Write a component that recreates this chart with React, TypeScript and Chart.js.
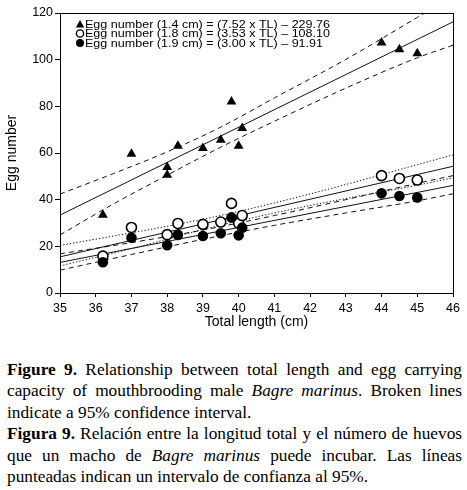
import { useRef, useEffect } from 'react';
import { Chart, registerables } from 'chart.js';

Chart.register(...registerables);

// scatter data (total length cm, egg number)
const triTL = [36.2, 37.0, 38.0, 38.0, 38.3, 39.0, 39.5, 39.8, 40.0, 40.1, 44.0, 44.5, 45.0];
const triEggs = [33.5, 59.6, 53.9, 50.6, 63.0, 62.1, 65.6, 82.0, 63.0, 70.6, 107.3, 104.4, 102.7];

const openTL = [36.2, 37.0, 38.0, 38.3, 39.0, 39.5, 39.8, 40.0, 40.1, 44.0, 44.5, 45.0];
const openEggs = [15.8, 28.1, 25.0, 29.8, 29.4, 30.4, 38.4, 29.9, 33.2, 50.3, 49.1, 48.4];

const fillTL = [36.2, 37.0, 38.0, 38.3, 39.0, 39.5, 39.8, 40.0, 40.1, 44.0, 44.5, 45.0];
const fillEggs = [13.2, 23.7, 20.5, 24.9, 24.4, 25.6, 32.4, 24.7, 28.0, 42.7, 41.6, 40.9];

// fitted lines (ends at x = 35 and 46)
const fitX = [35, 46];
const triFit = [33.4, 116.2];
const openFit = [15.5, 54.3];
const fillFit = [13.1, 46.1];

// 95% confidence bands
const triBandX = [35, 36.5, 38, 39.5, 41, 43, 45, 46];
const triUpper = [42.4, 51.2, 60.5, 71.1, 83.6, 100.1, 118.1, 127.2];
const triLower = [24.9, 38.2, 50.5, 62.5, 73.6, 87.8, 100.8, 106.2];

const bandX = [35, 37, 39, 41, 43, 45, 46];
const openUpper = [20.4, 25.8, 31.6, 38.6, 46.5, 55.0, 59.2];
const openLower = [11.6, 19.0, 27.2, 34.3, 40.5, 46.2, 49.4];
const fillUpper = [16.8, 21.6, 27.0, 33.2, 40.0, 47.0, 50.3];
const fillLower = [9.8, 16.5, 23.0, 29.0, 34.3, 39.5, 42.5];

const legendLabels = [
    'Egg number (1.4 cm) = (7.52 x TL) \u2013 229.76',
    'Egg number (1.8 cm) = (3.53 x TL) \u2013 108.10',
    'Egg number (1.9 cm) = (3.00 x TL) \u2013 91.91',
];

const xTicks = [35, 36, 37, 38, 39, 40, 41, 42, 43, 44, 45, 46];
const yTicks = [0, 20, 40, 60, 80, 100, 120];

const FONT = '"Liberation Sans", Arial, sans-serif';

const pts = (xs: number[], ys: number[]) => xs.map((x, i) => ({ x, y: ys[i] }));

const line = (xs: number[], ys: number[], dash: number[], order: number) => ({
    type: 'scatter' as const,
    data: pts(xs, ys),
    showLine: true,
    borderColor: '#111',
    borderWidth: 1,
    borderDash: dash,
    pointRadius: 0,
    cubicInterpolationMode: 'monotone' as const,
    order,
});

// box round the plot area
const framePlugin = {
    id: 'frame',
    afterDraw(chart: any) {
        const { ctx, chartArea: a } = chart;
        ctx.save();
        ctx.strokeStyle = '#000';
        ctx.lineWidth = 1;
        ctx.strokeRect(a.left + 0.5, a.top + 0.5, a.right - a.left, a.bottom - a.top);
        ctx.restore();
    },
};

// legend in the top-left corner of the plot (text is a little wide, like the scan)
const legendPlugin = {
    id: 'innerLegend',
    afterDraw(chart: any) {
        const { ctx, chartArea: a } = chart;
        const sx = a.left + 20;
        const tx = a.left + 25;
        ctx.save();
        ctx.fillStyle = '#000';
        ctx.strokeStyle = '#000';
        legendLabels.forEach((txt, i) => {
            const y = a.top + 11 + i * 9.5;
            ctx.beginPath();
            if (i === 0) {
                ctx.moveTo(sx, y - 4);
                ctx.lineTo(sx + 4.2, y + 3.5);
                ctx.lineTo(sx - 4.2, y + 3.5);
                ctx.closePath();
                ctx.fill();
            } else if (i === 1) {
                ctx.arc(sx, y, 3.6, 0, Math.PI * 2);
                ctx.lineWidth = 1.4;
                ctx.stroke();
            } else {
                ctx.arc(sx, y, 4, 0, Math.PI * 2);
                ctx.fill();
            }
            ctx.save();
            ctx.translate(tx, y + 0.5);
            ctx.scale(1.14, 1);
            ctx.font = `11px ${FONT}`;
            ctx.textBaseline = 'middle';
            ctx.fillText(txt, 0, 0);
            ctx.restore();
        });
        ctx.restore();
    },
};

const EggChart = () => {
    const canvasRef = useRef<HTMLCanvasElement | null>(null);
    const chartRef = useRef<any>(null);

    useEffect(() => {
        if (!canvasRef.current) return;
        if (chartRef.current) chartRef.current.destroy();

        const tickFont = { family: FONT, size: 12.5, lineHeight: 1 };

        chartRef.current = new Chart(canvasRef.current, {
            type: 'scatter',
            data: {
                datasets: [
                    {
                        data: pts(fillTL, fillEggs),
                        pointStyle: 'circle',
                        pointRadius: 5.3,
                        backgroundColor: '#000',
                        borderColor: '#000',
                        borderWidth: 0,
                        order: 0,
                    },
                    {
                        data: pts(openTL, openEggs),
                        pointStyle: 'circle',
                        pointRadius: 5,
                        backgroundColor: '#fff',
                        borderColor: '#000',
                        borderWidth: 1.6,
                        order: 1,
                    },
                    {
                        data: pts(triTL, triEggs),
                        pointStyle: 'triangle',
                        pointRadius: 5.7,
                        backgroundColor: '#000',
                        borderColor: '#000',
                        borderWidth: 0,
                        order: 2,
                    },
                    line(fitX, triFit, [], 3),
                    line(fitX, openFit, [], 3),
                    line(fitX, fillFit, [], 3),
                    line(triBandX, triUpper, [5, 4], 4),
                    line(triBandX, triLower, [5, 4], 4),
                    line(bandX, openUpper, [1.3, 2], 4),
                    line(bandX, openLower, [1.3, 2], 4),
                    line(bandX, fillUpper, [5, 4], 4),
                    line(bandX, fillLower, [5, 4], 4),
                ] as any,
            },
            options: {
                animation: false,
                responsive: true,
                maintainAspectRatio: false,
                layout: { padding: { top: 13, right: 14, bottom: 6, left: 0 } },
                plugins: {
                    legend: { display: false },
                    tooltip: { enabled: false },
                },
                scales: {
                    x: {
                        type: 'linear',
                        min: 35,
                        max: 46,
                        afterBuildTicks: (s: any) => { s.ticks = xTicks.map(v => ({ value: v })); },
                        afterFit: (s: any) => { s.height = 36; },
                        ticks: { color: '#000', font: tickFont, padding: 5 },
                        grid: { display: true, drawOnChartArea: false, drawTicks: true, tickLength: 4, color: '#000' },
                        border: { display: true, color: '#000', width: 1 },
                        title: {
                            display: true,
                            text: 'Total length (cm)',
                            color: '#000',
                            font: { family: FONT, size: 14, lineHeight: 1 },
                            padding: { top: 0, bottom: 0 },
                        },
                    },
                    y: {
                        type: 'linear',
                        min: 0,
                        max: 120,
                        afterBuildTicks: (s: any) => { s.ticks = yTicks.map(v => ({ value: v })); },
                        afterFit: (s: any) => { s.width = 60; },
                        ticks: { color: '#000', font: tickFont, padding: 2 },
                        grid: { display: true, drawOnChartArea: false, drawTicks: true, tickLength: 5, color: '#000' },
                        border: { display: true, color: '#000', width: 1 },
                        title: {
                            display: true,
                            text: 'Egg number',
                            color: '#000',
                            font: { family: FONT, size: 14, lineHeight: 1 },
                            padding: { top: 5, bottom: 0 },
                        },
                    },
                },
            },
            plugins: [framePlugin, legendPlugin],
        } as any);

        return () => { if (chartRef.current) chartRef.current.destroy(); };
    }, []);

    return (
        <div style={{ position: 'relative', width: 467, height: 335 }}>
            <canvas ref={canvasRef}></canvas>
        </div>
    );
};

export default function App() {
    const p = { margin: 0 };
    return (
        <div style={{ position: 'absolute', left: 0, top: 0, width: 467, height: 490, background: '#fff' }}>
            <EggChart />
            <div
                style={{
                    position: 'absolute',
                    left: 7,
                    top: 359,
                    width: 436.7,
                    transform: 'scaleX(1.042)',
                    transformOrigin: 'left top',
                    fontFamily: '"Liberation Serif", "Times New Roman", serif',
                    fontSize: 16.6,
                    lineHeight: '21.4px',
                    textAlign: 'justify',
                    color: '#000',
                }}
            >
                <p style={p}>
                    <b>Figure 9.</b> Relationship between total length and egg carrying capacity of
                    mouthbrooding male <i>Bagre marinus</i>. Broken lines indicate a 95% confidence interval.
                </p>
                <p style={p}>
                    <b>Figura 9.</b> Relación entre la longitud total y el número de huevos que un macho de{' '}
                    <i>Bagre marinus</i> puede incubar. Las líneas punteadas indican un intervalo de confianza
                    al 95%.
                </p>
            </div>
        </div>
    );
}
